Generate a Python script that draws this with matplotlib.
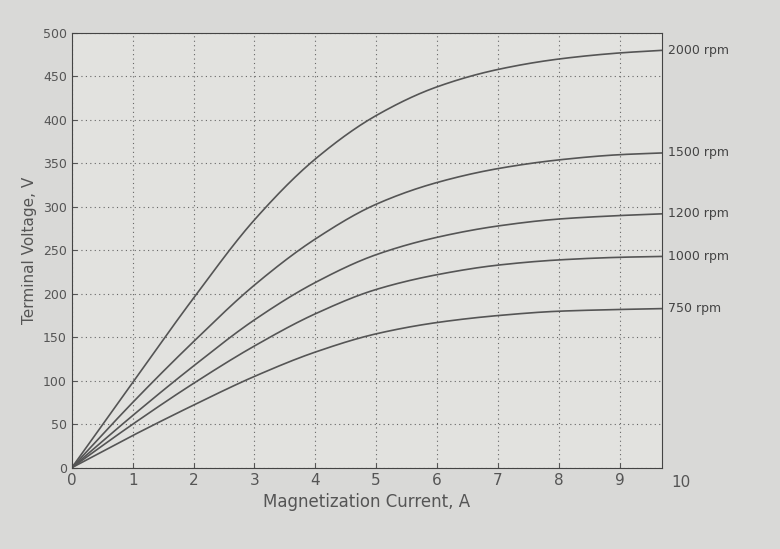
import matplotlib
matplotlib.use("Agg")
import matplotlib.pyplot as plt
import numpy as np

current = [0, 1, 2, 3, 4, 5, 6, 7, 8, 9, 9.7]
v2000 = [0, 98, 195, 285, 355, 405, 438, 458, 470, 477, 480]
v1500 = [0, 75, 145, 210, 263, 303, 328, 344, 354, 360, 362]
v1200 = [0, 60, 117, 170, 213, 245, 265, 278, 286, 290, 292]
v1000 = [0, 50, 97, 140, 177, 205, 222, 233, 239, 242, 243]
v750 = [0, 37, 72, 105, 133, 154, 167, 175, 180, 182, 183]
series = [("2000 rpm", v2000), ("1500 rpm", v1500), ("1200 rpm", v1200),
          ("1000 rpm", v1000), ("750 rpm", v750)]


def pchip(x, y, xs):
    # monotone cubic hermite interpolation (Fritsch-Carlson)
    x = np.asarray(x, float)
    y = np.asarray(y, float)
    h = np.diff(x)
    d = np.diff(y) / h
    m = np.zeros_like(y)
    m[0], m[-1] = d[0], d[-1]
    for i in range(1, len(x) - 1):
        if d[i - 1] * d[i] > 0:
            w1 = 2 * h[i] + h[i - 1]
            w2 = h[i] + 2 * h[i - 1]
            m[i] = (w1 + w2) / (w1 / d[i - 1] + w2 / d[i])
    idx = np.clip(np.searchsorted(x, xs) - 1, 0, len(x) - 2)
    t = (xs - x[idx]) / h[idx]
    h00 = 2 * t**3 - 3 * t**2 + 1
    h10 = t**3 - 2 * t**2 + t
    h01 = -2 * t**3 + 3 * t**2
    h11 = t**3 - t**2
    return (h00 * y[idx] + h10 * h[idx] * m[idx]
            + h01 * y[idx + 1] + h11 * h[idx] * m[idx + 1])


bg = "#d9d9d7"
fig = plt.figure(figsize=(7.8, 5.49), dpi=100, facecolor=bg)
ax = fig.add_axes([0.092, 0.148, 0.757, 0.792], facecolor="#e2e2df")

xs = np.linspace(0, 9.7, 300)
for label, vals in series:
    ax.plot(xs, pchip(current, vals, xs), color="#555555", lw=1.2)
    ax.text(9.8, vals[-1], label, fontsize=9, color="#444444", va="center")

ax.set_xlim(0, 9.7)
ax.set_ylim(0, 500)
ax.set_xticks(range(0, 10))
ax.set_yticks(range(0, 501, 50))
ax.text(10.0, -8, "10", fontsize=11, color="#555555", ha="center", va="top")
ax.grid(True, color="#666666", ls=(0, (1, 3)), lw=0.8)
for s in ax.spines.values():
    s.set_color("#444444")
ax.tick_params(colors="#555555", labelsize=11, direction="in")
ax.tick_params(axis="y", labelsize=9)
ax.set_xlabel("Magnetization Current, A", fontsize=12, color="#555555")
ax.set_ylabel("Terminal Voltage, V", fontsize=11, color="#555555")

fig.savefig("out.png", dpi=100, facecolor=bg)
